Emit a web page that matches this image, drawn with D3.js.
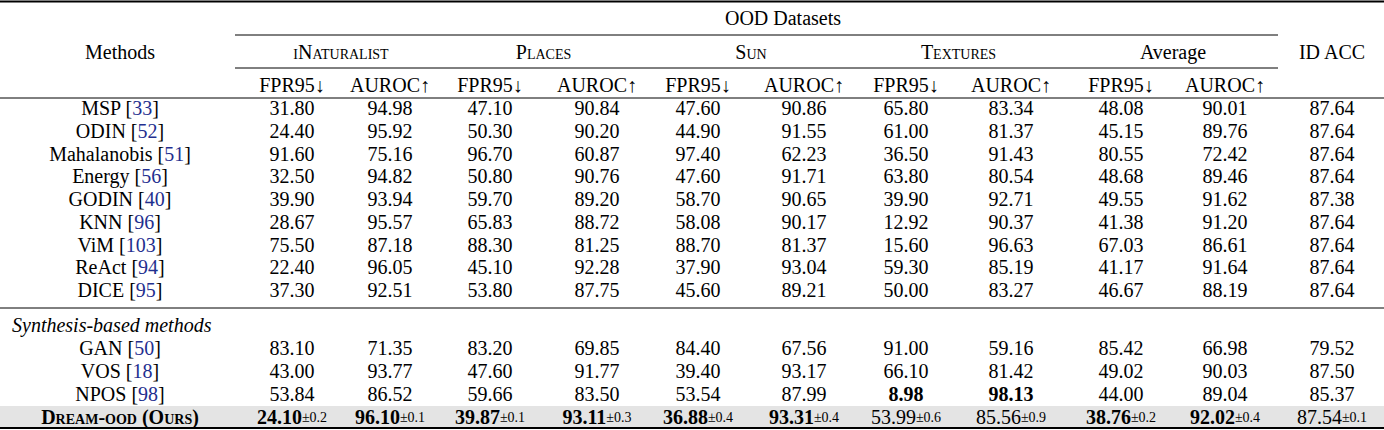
<!DOCTYPE html>
<html><head><meta charset="utf-8">
<script src="https://cdn.jsdelivr.net/npm/d3@7"></script>
<style>
body{margin:0;background:#fff}
text{font-family:"Liberation Serif","Times New Roman",serif;font-size:20px;fill:#000}
</style></head>
<body><svg id="t" width="1384" height="430"></svg>
<script>
// columns and headers
const datasets = ['iNaturalist', 'Places', 'Sun', 'Textures', 'Average']
const metrics = ['FPR95↓', 'AUROC↑']
const baseMethods = ['MSP', 'ODIN', 'Mahalanobis', 'Energy', 'GODIN', 'KNN', 'ViM', 'ReAct', 'DICE']
const baseRefs = ['33', '52', '51', '56', '40', '96', '103', '94', '95']
const synthMethods = ['GAN', 'VOS', 'NPOS']
const synthRefs = ['50', '18', '98']
// values: fpr/auroc per dataset, then id acc
const baseValues = [
  ['31.80','94.98','47.10','90.84','47.60','90.86','65.80','83.34','48.08','90.01','87.64'],
  ['24.40','95.92','50.30','90.20','44.90','91.55','61.00','81.37','45.15','89.76','87.64'],
  ['91.60','75.16','96.70','60.87','97.40','62.23','36.50','91.43','80.55','72.42','87.64'],
  ['32.50','94.82','50.80','90.76','47.60','91.71','63.80','80.54','48.68','89.46','87.64'],
  ['39.90','93.94','59.70','89.20','58.70','90.65','39.90','92.71','49.55','91.62','87.38'],
  ['28.67','95.57','65.83','88.72','58.08','90.17','12.92','90.37','41.38','91.20','87.64'],
  ['75.50','87.18','88.30','81.25','88.70','81.37','15.60','96.63','67.03','86.61','87.64'],
  ['22.40','96.05','45.10','92.28','37.90','93.04','59.30','85.19','41.17','91.64','87.64'],
  ['37.30','92.51','53.80','87.75','45.60','89.21','50.00','83.27','46.67','88.19','87.64']
]
const synthValues = [
  ['83.10','71.35','83.20','69.85','84.40','67.56','91.00','59.16','85.42','66.98','79.52'],
  ['43.00','93.77','47.60','91.77','39.40','93.17','66.10','81.42','49.02','90.03','87.50'],
  ['53.84','86.52','59.66','83.50','53.54','87.99','8.98','98.13','44.00','89.04','85.37']
]
const synthBold = [[], [], [6, 7]]
const oursValues = ['24.10','96.10','39.87','93.11','36.88','93.31','53.99','85.56','38.76','92.02','87.54']
const oursStd = ['0.2','0.1','0.1','0.3','0.4','0.4','0.6','0.9','0.2','0.4','0.1']
const oursBold = [0, 1, 2, 3, 4, 5, 8, 9]

const svg = d3.select('#t')
const colKeys = d3.range(11)
const x = d3.scaleOrdinal().domain(colKeys)
  .range([292, 390, 490, 597, 698, 804, 906, 1011, 1121, 1225, 1332])
const methodX = 120
// base rows and synthesis rows
const yBase = d3.scaleLinear().domain([0, 8]).range([108, 290])
const ySynth = d3.scaleLinear().domain([0, 3]).range([348, 417])

const line = (x1, x2, yy, w) => svg.append('line').attr('x1', x1).attr('x2', x2)
  .attr('y1', yy).attr('y2', yy).attr('stroke', '#000').attr('stroke-width', w)

// background for our row
svg.append('rect').attr('x', 0).attr('y', 406).attr('width', 1384).attr('height', 22).attr('fill', '#e4e4e4')

line(0, 1384, 1.5, 2)
line(235, 1278, 35, 1)
line(235, 1278, 68, 1)
line(0, 1384, 98, 1)
line(0, 1384, 308, 1)
line(0, 1384, 428, 2)

const txt = (tx, ty, s) => svg.append('text').attr('x', tx).attr('y', ty)
  .attr('text-anchor', 'middle').attr('dominant-baseline', 'central').text(s)

txt(783, 18, 'OOD Datasets')
txt(methodX, 52, 'Methods')
txt(1332, 52, 'ID ACC')
datasets.forEach((d, i) => {
  const cx = (x(i * 2) + x(i * 2 + 1)) / 2
  const t = txt(cx, 52, d)
  if (i < 4) t.style('font-variant', 'small-caps')
  metrics.forEach((m, j) => txt(x(i * 2 + j), 85, m))
})

function methodCell(yy, name, ref) {
  const t = txt(methodX, yy, name + ' [')
  t.append('tspan').style('fill', '#1f2f8f').text(ref)
  t.append('tspan').text(']')
}

baseMethods.forEach((m, i) => {
  methodCell(yBase(i), m, baseRefs[i])
  baseValues[i].forEach((v, c) => txt(x(c), yBase(i), v))
})

svg.append('text').attr('x', 12).attr('y', 325).attr('dominant-baseline', 'central')
  .style('font-style', 'italic').text('Synthesis-based methods')

synthMethods.forEach((m, i) => {
  const yy = ySynth(i)
  methodCell(yy, m, synthRefs[i])
  synthValues[i].forEach((v, c) => {
    const t = txt(x(c), yy, v)
    if (synthBold[i].includes(c)) t.style('font-weight', 'bold')
  })
})

const oy = ySynth(3)
txt(methodX, oy, 'Dream-ood (Ours)').style('font-weight', 'bold').style('font-variant', 'small-caps')
oursValues.forEach((v, c) => {
  const t = svg.append('text').attr('x', x(c)).attr('y', oy)
    .attr('text-anchor', 'middle').attr('dominant-baseline', 'central')
  t.append('tspan').style('font-weight', oursBold.includes(c) ? 'bold' : 'normal').text(v)
  t.append('tspan').style('font-size', '14px').text('±' + oursStd[c])
})
</script></body></html>
